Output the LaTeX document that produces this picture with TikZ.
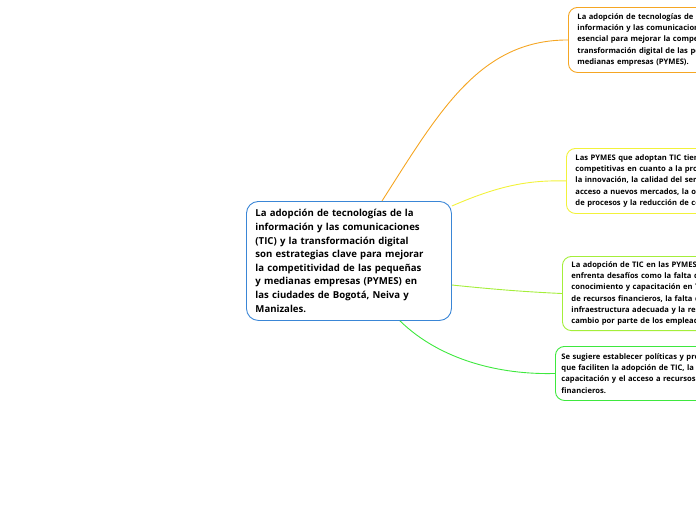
\documentclass[tikz,border=0pt]{standalone}
\usepackage{fontspec}
\setmainfont{Open Sans}
\begin{document}
\begin{tikzpicture}[x=1pt,y=-1pt,
  box/.style={draw,line width=0.9pt,rounded corners=9pt,align=left,anchor=north west,font=\bfseries\fontsize{7.6}{11.3}\selectfont,inner xsep=9pt,inner ysep=5pt,text width=200pt},
  link/.style={line width=0.9pt}]
\useasboundingbox (0,0) rectangle (696,520);
\clip (0,0) rectangle (696,520);
\definecolor{corange}{HTML}{F5A623}
\definecolor{cyellow}{HTML}{F2F23A}
\definecolor{clime}{HTML}{A4EE3A}
\definecolor{cgreen}{HTML}{3EE83E}
\definecolor{cblue}{HTML}{3A86D6}
\node[box,draw=cblue,font=\bfseries\fontsize{9.6}{13.6}\selectfont,text width=187pt,minimum height=119pt,inner xsep=9pt,inner ysep=3pt,rounded corners=12pt] (c) at (246,201) {La adopción de tecnologías de la\\información y las comunicaciones\\(TIC) y la transformación digital\\son estrategias clave para mejorar\\la competitividad de las pequeñas\\y medianas empresas (PYMES) en\\las ciudades de Bogotá, Neiva y\\Manizales.};
\node[box,draw=corange,minimum height=65pt] (a) at (568,7) {La adopción de tecnologías de la\\información y las comunicaciones es\\esencial para mejorar la competitividad y la\\transformación digital de las pequeñas y\\medianas empresas (PYMES).};
\node[box,draw=cyellow,minimum height=65pt] (b) at (566,148) {Las PYMES que adoptan TIC tienen ventajas\\competitivas en cuanto a la productividad,\\la innovación, la calidad del servicio, el\\acceso a nuevos mercados, la optimización\\de procesos y la reducción de costos.};
\node[box,draw=clime,minimum height=74pt] (d) at (562,256) {La adopción de TIC en las PYMES se\\enfrenta desafíos como la falta de\\conocimiento y capacitación en TIC, la falta\\de recursos financieros, la falta de\\infraestructura adecuada y la resistencia al\\cambio por parte de los empleados.};
\node[box,draw=cgreen,minimum height=54pt,inner ysep=4pt,inner xsep=6pt] (e) at (555,346) {Se sugiere establecer políticas y programas\\que faciliten la adopción de TIC, la\\capacitación y el acceso a recursos\\financieros.};
\draw[link,corange] (c.north west)++(136,0) coordinate (c1) .. controls (440,110) and (480,40) .. (a.west);
\draw[link,cyellow] (c.east|-0,206) coordinate (c2) .. controls (500,185) and (530,180) .. (b.west);
\draw[link,clime] (c.east|-0,285) coordinate (c3) .. controls (500,290) and (530,292) .. (d.west);
\draw[link,cgreen] (c.south west)++(154,0) coordinate (c4) .. controls (440,360) and (500,375) .. (e.west);
\end{tikzpicture}
\end{document}
